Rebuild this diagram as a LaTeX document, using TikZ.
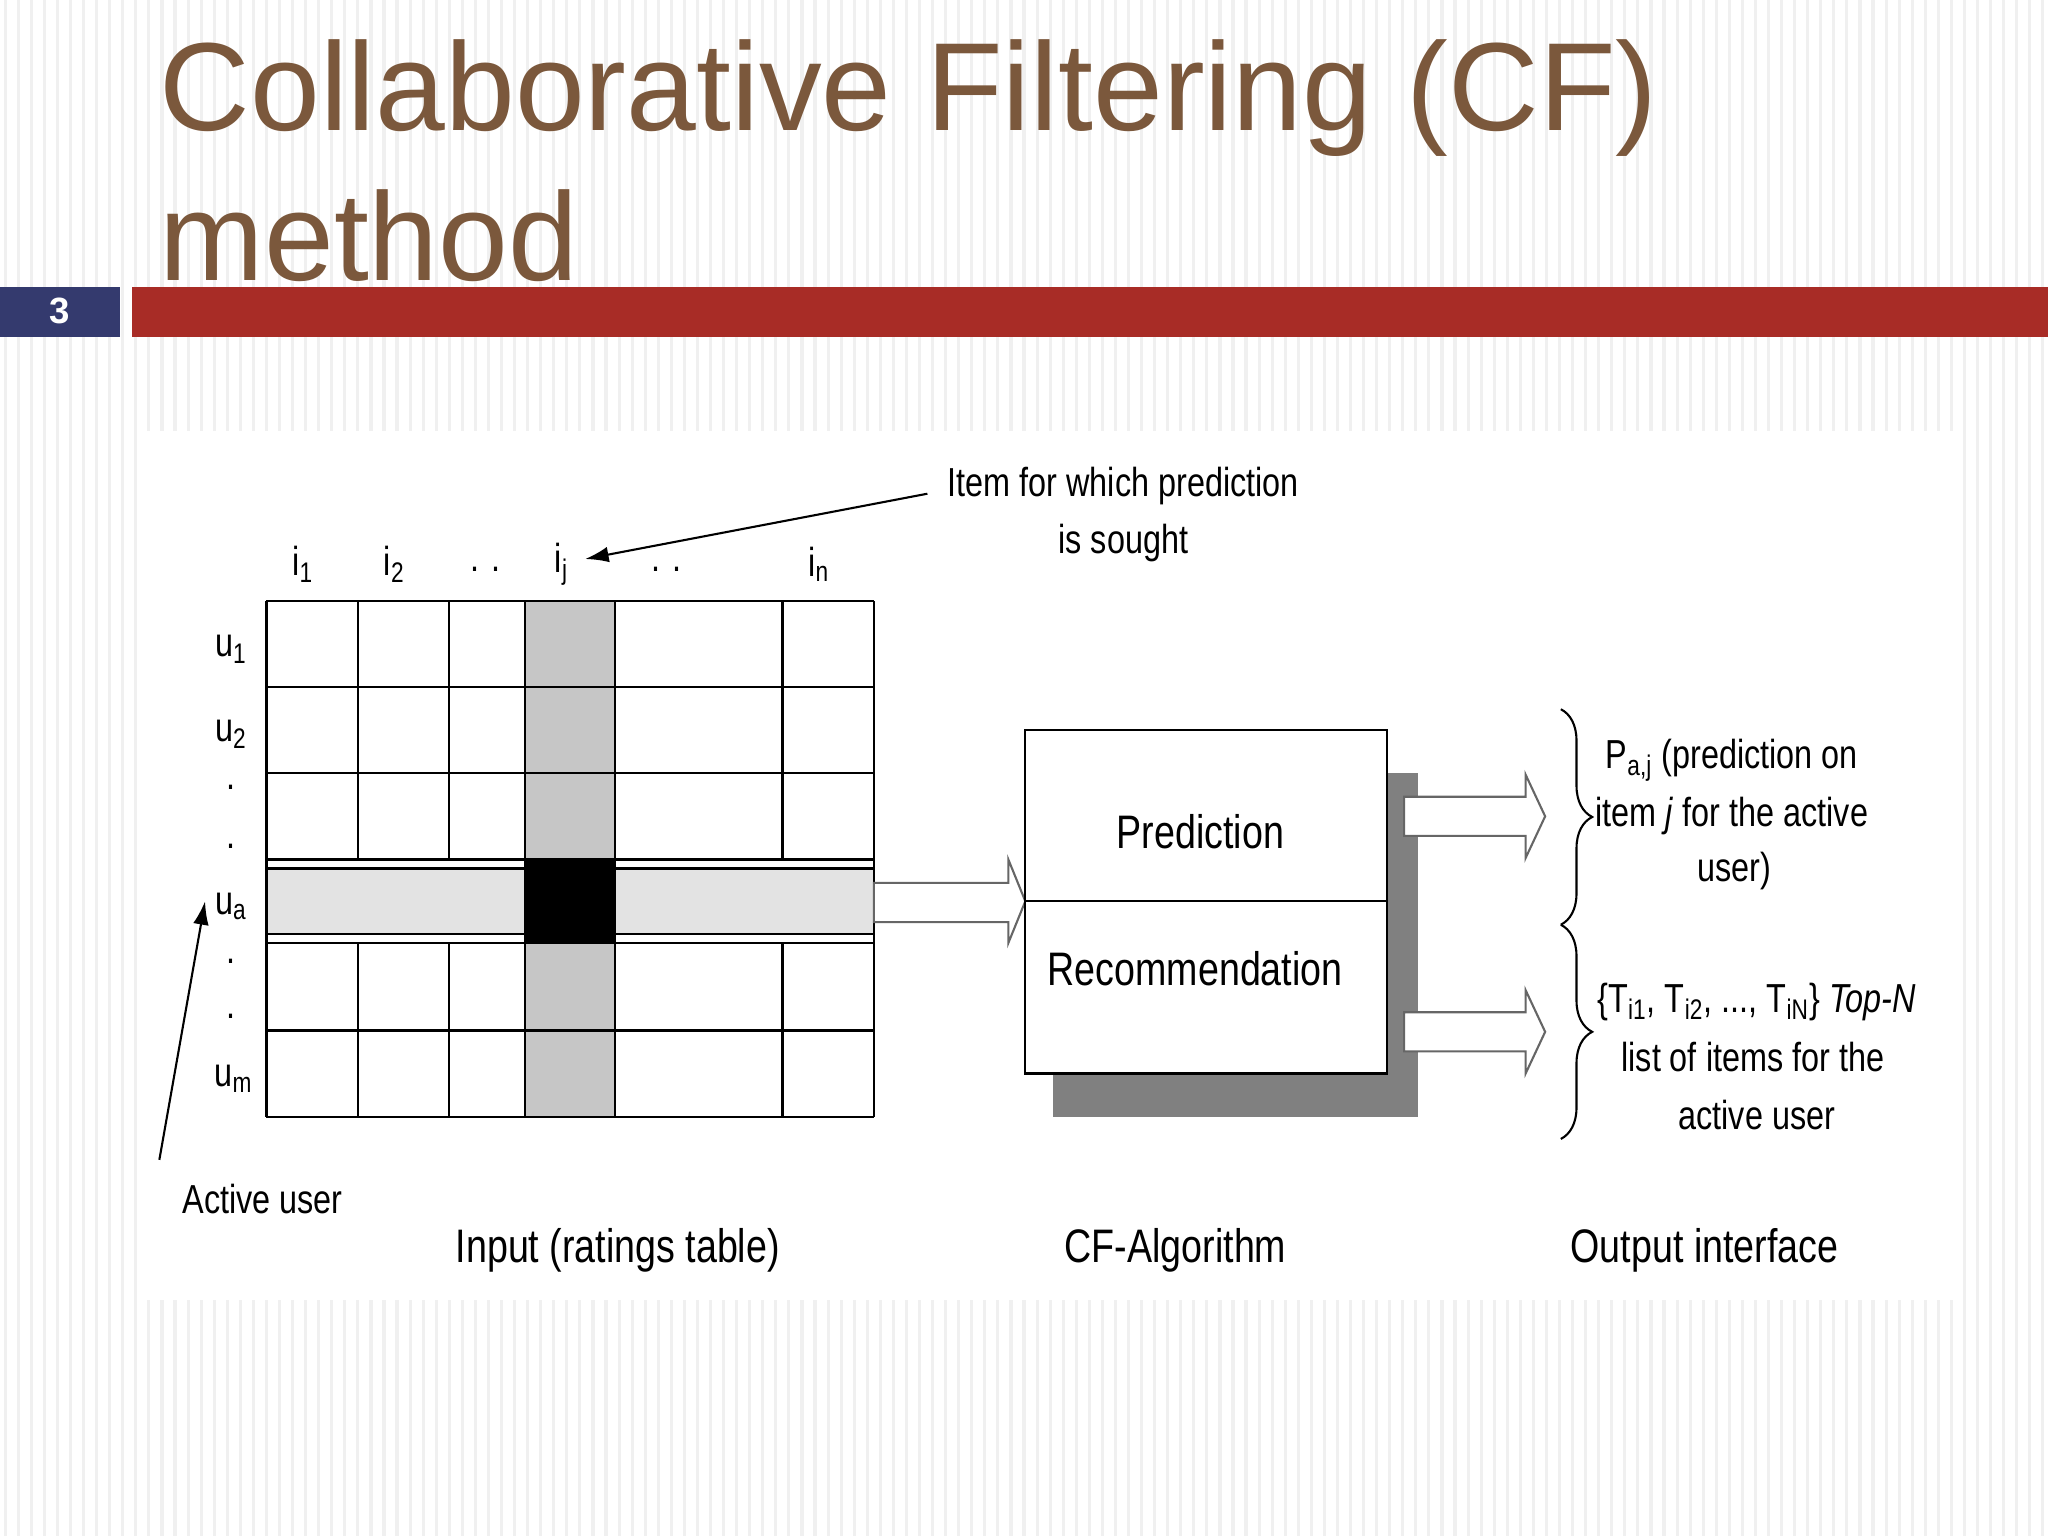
\documentclass[tikz,border=0pt]{standalone}
\usepackage{fontspec}
\setmainfont{Liberation Sans}
\newfontfamily\narrow[FakeStretch=0.8]{Liberation Sans}
\usetikzlibrary{arrows.meta,decorations.pathreplacing}
\definecolor{titlebrown}{RGB}{123,88,60}
\definecolor{barred}{RGB}{168,44,38}
\definecolor{barblue}{RGB}{52,58,110}
\newcommand{\sbs}[1]{\textsubscript{#1}}
\tikzset{
  lbl/.style={inner sep=0pt,font=\narrow\fontsize{15.5}{19}\selectfont},
  big/.style={inner sep=0pt,font=\narrow\fontsize{18}{22}\selectfont},
  hollow/.style={fill=white,draw=gray!80!black,line width=0.8pt},
  gridl/.style={line width=0.9pt,black}
}
\begin{document}
\begin{tikzpicture}[x=0.5pt,y=-0.5pt]
\useasboundingbox (0,0) rectangle (1568,1176);
\fill[white] (0,0) rectangle (1568,1176);
\foreach \x in {4,14,...,1568} \draw[gray!12,line width=1.2pt] (\x,0) -- (\x,1176);
\fill[white] (105,330) rectangle (1500,995);
% title
\node[anchor=base west,inner sep=0pt,text=titlebrown,font=\fontsize{48}{56}\selectfont] (t1) at (122,100) {Collaborative Filtering (CF)};
\node[anchor=base west,inner sep=0pt,text=titlebrown,font=\fontsize{48}{56}\selectfont] (t2) at (122,215) {method};
\fill[barblue] (0,220) rectangle (92,258);
\node[text=white,font=\bfseries\fontsize{14}{16}\selectfont] (num) at (46,238) {3};
\fill[barred] (101,220) rectangle (1568,258);
% grid
\fill[gray!45] (402,460) rectangle (471,855);
\fill[gray!22] (204,665) rectangle (669,715);
\fill[black] (402,658) rectangle (471,722);
\foreach \y in {460,526,592,658,665,715,722,789,855} \draw[gridl] (204,\y) -- (669,\y);
\foreach \x in {204,402,471,669} \draw[gridl] (\x,460) -- (\x,855);
\foreach \x in {274,344,599} {\draw[gridl] (\x,460) -- (\x,658); \draw[gridl] (\x,722) -- (\x,855);}
% column labels
\node[lbl] (c1) at (232,432) {i\sbs{1}};
\node[lbl] (c2) at (302,432) {i\sbs{2}};
\node[lbl] (c3) at (372,436) {. .};
\node[lbl] (cj) at (430,432) {i\sbs{j}};
\node[lbl] (c4) at (510,436) {. .};
\node[lbl] (cn) at (627,432) {i\sbs{n}};
\node[lbl] (r1) at (177,497) {u\sbs{1}};
\node[lbl] (r2) at (177,562) {u\sbs{2}};
\node[lbl] (r3) at (177,603) {.};
\node[lbl] (r4) at (177,648) {.};
\node[lbl] (ra) at (177,694) {u\sbs{a}};
\node[lbl] (r5) at (177,736) {.};
\node[lbl] (r6) at (177,778) {.};
\node[lbl] (rm) at (179,826) {u\sbs{m}};
% item annotation
\node[lbl,align=center] (item) at (860,394) {Item for which prediction\\[3pt]is sought};
\coordinate (itemS) at (710,378);
\coordinate (itemE) at (448,428);
\draw[-{Latex[length=9pt,width=6pt]},line width=0.8pt] (itemS) -- (itemE);
\node[lbl] (active) at (201,918) {Active user};
\coordinate (aS) at (122,888);
\coordinate (aE) at (157,690);
\draw[-{Latex[length=9pt,width=6pt]},line width=0.8pt] (aS) -- (aE);
% big hollow arrow
\draw[hollow] (669,676) -- (772,676) -- (772,658) -- (785,690) -- (772,722) -- (772,706) -- (669,706) -- cycle;
% CF box
\fill[black!50] (806,592) rectangle (1086,855);
\node[draw,line width=0.9pt,fill=white,minimum width=138.5pt,minimum height=65.5pt,inner sep=0pt] (pred) at (923.5,624.5) {};
\node[draw,line width=0.9pt,fill=white,minimum width=138.5pt,minimum height=66pt,inner sep=0pt] (rec) at (923.5,756) {};
\node[big] (predt) at (919,637) {Prediction};
\node[big] (rect) at (915,742) {Recommendation};
% output arrows
\foreach \y in {625,790} \draw[hollow] (1075,\y-15) -- (1168,\y-15) -- (1168,\y-32) -- (1183,\y) -- (1168,\y+32) -- (1168,\y+15) -- (1075,\y+15) -- cycle;
\coordinate (b1) at (1195,543); \coordinate (b2) at (1195,708); \coordinate (b3) at (1195,872);
\draw[decorate,decoration={brace,amplitude=12pt,mirror},line width=0.8pt] (b2) -- (b1);
\draw[decorate,decoration={brace,amplitude=12pt,mirror},line width=0.8pt] (b3) -- (b2);
% outputs text
\node[lbl] (o1) at (1326,582) {P\sbs{a,j} (prediction on};
\node[lbl] (o2) at (1326,625) {item \textit{j} for the active};
\node[lbl] (o3) at (1328,667) {user)};
\node[lbl] (o4) at (1345,767) {\{T\sbs{i1}, T\sbs{i2}, ..., T\sbs{iN}\} \textit{Top-N}};
\node[lbl] (o5) at (1342,809) {list of items for the};
\node[lbl] (o6) at (1345,854) {active user};
% bottom
\node[big] (in) at (473,957) {Input (ratings table)};
\node[big] (cf) at (900,957) {CF-Algorithm};
\node[big] (out) at (1305,957) {Output interface};
\end{tikzpicture}
\end{document}
